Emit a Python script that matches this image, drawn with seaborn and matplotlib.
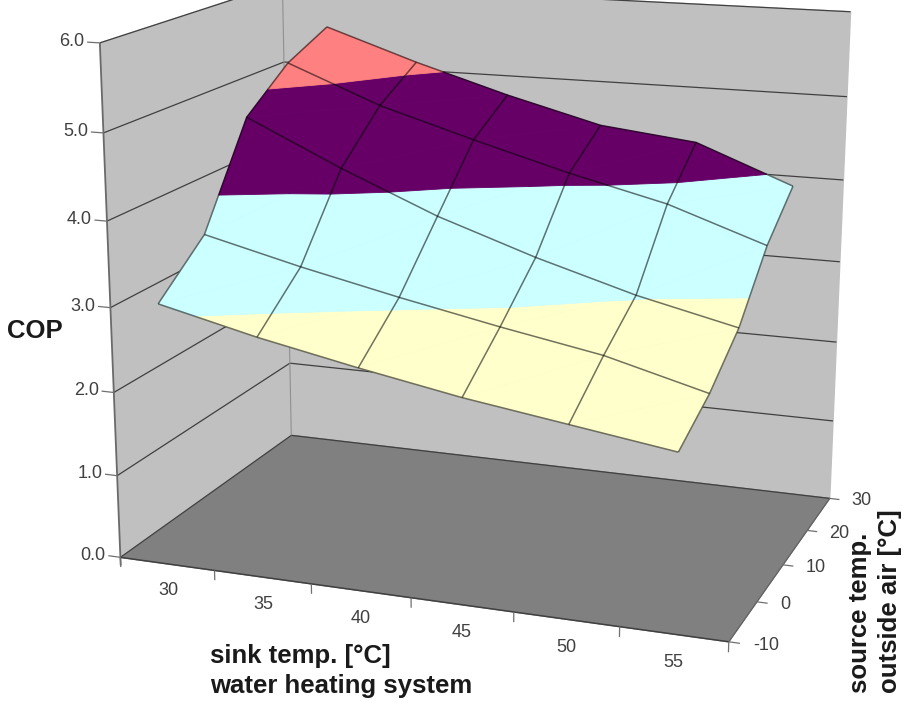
import numpy as np
import matplotlib
matplotlib.use('Agg')
import matplotlib.pyplot as plt
import seaborn as sns
from mpl_toolkits.mplot3d import proj3d
from mpl_toolkits.mplot3d.art3d import Line3DCollection, Poly3DCollection

# Heat pump COP, rows are source temp., columns are sink temp.
sink = np.array([30, 35, 40, 45, 50, 55])
source = np.array([-10, 0, 10, 20, 30])
cop_m10 = [3.10, 2.83, 2.60, 2.39, 2.22, 2.05]
cop_0 = [3.62, 3.34, 3.09, 2.86, 2.65, 2.34]
cop_10 = [4.77, 4.24, 3.76, 3.37, 3.03, 2.76]
cop_20 = [5.22, 4.77, 4.43, 4.11, 3.83, 3.43]
cop_30 = [5.48, 5.10, 4.76, 4.46, 4.33, 3.88]
cop = np.array([cop_m10, cop_0, cop_10, cop_20, cop_30])
cop_ticks = [0, 1, 2, 3, 4, 5, 6]
band_edges = [0, 3, 4, 5, 6.5]
band_colors = ['#FFFFCC', '#CCFFFF', '#660066', '#FF8080']

W, H = 909, 705
sns.set_theme(style='white')
plt.rcParams['font.family'] = ['Liberation Sans', 'DejaVu Sans']
palette = sns.color_palette(band_colors)

fig = plt.figure(figsize=(W/100, H/100), dpi=100)
ax = fig.add_subplot(projection='3d', computed_zorder=False)
ax.set_position([0, (H-W)/2/H, 1, W/H])
xlo, xhi, ylo, yhi = 27.5, 57.5, -10, 30
ax.set_xlim(xlo, xhi, view_margin=0)
ax.set_ylim(ylo, yhi, view_margin=0)
ax.set_zlim(0, 6, view_margin=0)
ax.apply_aspect()

# Camera fitted to where the corners of the box sit in the figure
world = [(xlo, ylo, 0), (xhi, ylo, 0), (xhi, yhi, 0), (xlo, yhi, 0),
         (xlo, ylo, 6), (xlo, yhi, 6), (xhi, yhi, 6)]
pix = [(120, 558), (728, 642), (830, 498), (292, 435),
       (101, 42), (281, -16), (851, 12)]
view = ax.transData.inverted().transform([(u, H-v) for u, v in pix])
rows = []
for (X0, Y0, Z0), (u, v) in zip(world, view):
    rows.append([X0, Y0, Z0, 1, 0, 0, 0, 0, -u*X0, -u*Y0, -u*Z0, -u])
    rows.append([0, 0, 0, 0, X0, Y0, Z0, 1, -v*X0, -v*Y0, -v*Z0, -v])
p = np.linalg.svd(np.array(rows))[2][-1].reshape(3, 4)
p = p/(p[2] @ [42, 10, 3, 1])
M = np.array([p[0], p[1], [-1/30, 1/50, -1/6, 0], p[2]])
M[2] += 5*p[2]
ax.get_proj = lambda: M

# Walls and floor
for axis in (ax.xaxis, ax.yaxis, ax.zaxis):
    axis.line.set_color('none')
    axis.pane.set_edgecolor('none')
    axis._axinfo['tick']['inward_factor'] = 0
    axis._axinfo['tick']['outward_factor'] = 0
ax.xaxis.set_pane_color('#C0C0C0')
ax.yaxis.set_pane_color('#C0C0C0')
ax.zaxis.set_pane_color('#808080')
ax.set_xticks([])
ax.set_yticks([])
ax.set_zticks(cop_ticks)
ax.set_zticklabels([])
ax.grid(True)
ax.zaxis._axinfo['grid'].update(color='#404040', linewidth=0.9)


def draw_segments(segments, color, lw):
    ax.add_collection3d(Line3DCollection(segments, colors=color, linewidths=lw, zorder=2),
                        autolim=False)


def draw_label(x, y, z, text, **kwargs):
    # goes through the camera so the text has a normal 2D position
    vx, vy, _ = proj3d.proj_transform(x, y, z, M)
    ax.text2D(vx, vy, text, transform=ax.transData, **kwargs)


draw_segments([[(xlo, ylo, -0.1), (xlo, ylo, 6)]], '#6a6a6a', 1.3)
draw_segments([[(xlo, yhi, 0), (xlo, yhi, 6)]], '#909090', 0.8)
draw_segments([[(xlo, ylo, 0), (xhi, ylo, 0)]], '#404040', 1.1)
draw_segments([[(xhi, ylo, 0), (xhi, yhi, 0)]], '#606060', 0.8)


def clip(tri, lo, hi):
    # keep the part of a triangle that lies between two COP levels
    for lim, sgn in ((lo, 1), (hi, -1)):
        out = []
        for a, b in zip(tri, tri[1:]+tri[:1]):
            da, db = sgn*(a[2]-lim), sgn*(b[2]-lim)
            if da >= 0:
                out.append(a)
            if da*db < 0:
                t = da/(da-db)
                out.append(tuple(np.array(a)+t*(np.array(b)-np.array(a))))
        tri = out
        if not tri:
            return []
    return tri


X, Y = np.meshgrid(sink, source)
for k, col in enumerate(palette):
    polys = []
    for j in range(len(source)-1):
        for i in range(len(sink)-1):
            c = [(X[j, i], Y[j, i], cop[j, i]),
                 (X[j, i+1], Y[j, i+1], cop[j, i+1]),
                 (X[j+1, i+1], Y[j+1, i+1], cop[j+1, i+1]),
                 (X[j+1, i], Y[j+1, i], cop[j+1, i])]
            for tri in ([c[0], c[1], c[2]], [c[0], c[2], c[3]]):
                q = clip(tri, band_edges[k], band_edges[k+1])
                if len(q) >= 3:
                    polys.append(q)
    ax.add_collection3d(Poly3DCollection(polys, facecolors=[col], edgecolors=[col],
                                         linewidths=0.6, zorder=3))
ax.plot_wireframe(X, Y, cop, color='black', alpha=0.55, linewidth=1.1, zorder=4)

# Tick marks and tick labels
label = dict(fontsize=13, color='#404040', zorder=5)
for z in cop_ticks:
    draw_segments([[(xlo-0.65, ylo, z), (xlo, ylo, z)]], '#707070', 0.9)
    draw_label(xlo-0.8, ylo, z, f'{z:.1f}', ha='right', va='center', **label)
for b in np.arange(xlo, xhi+1, 5):
    draw_segments([[(b, ylo, -0.12), (b, ylo, 0)]], '#707070', 0.9)
for s in sink:
    draw_label(s, ylo, -0.33, str(s), ha='center', va='center', **label)
for s in source:
    draw_segments([[(xhi, s, 0), (xhi+0.5, s, 0)]], '#707070', 0.9)
    draw_label(xhi+1.1, s, 0, str(s), ha='left', va='center', **label)

# Axis titles
title = dict(fontsize=18.5, fontweight='bold', color='#1a1a1a')
fig.text(7/W, 1-338/H, 'COP', ha='left', va='baseline', **title)
fig.text(210/W, 1-663/H, 'sink temp. [°C]', ha='left', va='baseline', **title)
fig.text(210/W, 1-693/H, 'water heating system', ha='left', va='baseline', **title)
fig.text(860/W, 1-693/H, 'source temp.', rotation=90, ha='center', va='bottom', **title)
fig.text(890/W, 1-693/H, 'outside air [°C]', rotation=90, ha='center', va='bottom', **title)

fig.savefig('out.png', dpi=100)
